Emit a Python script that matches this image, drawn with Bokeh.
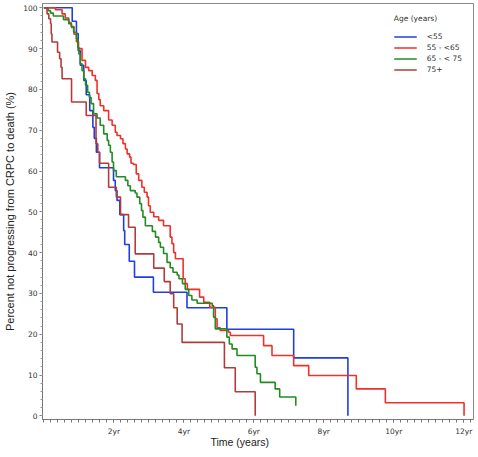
import numpy as np
from bokeh.plotting import figure
from bokeh.models import Range1d, FixedTicker, Title
from bokeh.embed import file_html
from bokeh.resources import INLINE

# ---------------- data ----------------
group_names = ["<55", "55 - <65", "65 - < 75", "75+"]
group_colors = ["#1f3fe0", "#f0302a", "#238b23", "#b03c3c"]

t_lt55 = [0, 0.81, 0.93, 0.98, 1.04, 1.14, 1.21, 1.31, 1.40, 1.44, 1.50, 1.59,
          1.99, 2.04, 2.09, 2.17, 2.28, 2.31, 2.44, 2.59, 3.13, 4.09, 5.23, 7.14, 8.69]
s_lt55 = [100, 96.7, 93.7, 89.5, 85.9, 82.2, 78.7, 74.8, 70.7, 68.0, 64.6, 60.8,
          57.7, 55.2, 52.8, 49.3, 45.4, 42.0, 37.9, 34.0, 30.3, 26.5, 21.2, 14.2, 0]

t_55_65 = [0, 0.33, 0.52, 0.61, 0.71, 0.78, 0.86, 0.93, 0.99, 1.09, 1.19, 1.28,
           1.38, 1.47, 1.52, 1.57, 1.61, 1.71, 1.85, 1.95, 2.04, 2.09, 2.19, 2.26,
           2.33, 2.38, 2.45, 2.49, 2.56, 2.64, 2.71, 2.80, 2.87, 2.95, 2.99, 3.04,
           3.14, 3.28, 3.42, 3.61, 3.66, 3.71, 3.76, 3.98, 4.04, 4.10, 4.45, 4.57,
           4.74, 4.90, 4.95, 5.04, 5.28, 5.33, 6.28, 6.52, 7.14, 7.57, 8.93, 9.76, 12.01]
s_55_65 = [100, 99.5, 98.5, 97.5, 96.4, 95.4, 93.5, 91.7, 90.0, 87.1, 85.4, 84.6,
           83.4, 82.2, 79.0, 77.5, 76.0, 74.8, 72.5, 71.2, 69.5, 68.7, 67.9, 66.7,
           65.4, 64.2, 63.4, 61.9, 61.6, 59.3, 57.7, 56.0, 54.8, 53.6, 51.5, 49.9,
           48.8, 47.9, 46.6, 43.8, 42.2, 40.0, 38.5, 33.6, 32.4, 31.0, 29.1, 27.8,
           26.6, 23.8, 21.6, 20.9, 20.5, 19.7, 17.2, 14.8, 12.3, 9.9, 6.6, 3.2, 0]

t_65_75 = [0, 0.12, 0.19, 0.27, 0.56, 0.71, 0.79, 0.85, 0.93, 0.97, 1.00, 1.04,
           1.09, 1.14, 1.19, 1.25, 1.30, 1.35, 1.42, 1.52, 1.61, 1.71, 1.81, 1.85,
           1.90, 1.95, 1.99, 2.07, 2.33, 2.40, 2.47, 2.61, 2.66, 2.74, 2.79, 2.83,
           2.90, 3.10, 3.19, 3.28, 3.33, 3.42, 3.52, 3.61, 3.69, 3.81, 3.86, 3.96,
           4.04, 4.14, 4.23, 4.38, 4.81, 4.85, 4.90, 5.23, 5.30, 5.38, 5.52, 6.04,
           6.09, 6.19, 6.61, 6.74, 7.20]
s_65_75 = [100, 99.3, 98.7, 98.0, 97.1, 96.1, 95.2, 94.0, 92.4, 90.3, 88.7, 86.3,
           84.6, 82.6, 81.0, 79.3, 78.0, 76.5, 74.0, 73.0, 71.2, 69.1, 67.5, 66.3,
           64.6, 62.2, 60.1, 58.6, 57.7, 56.4, 55.2, 54.6, 53.6, 52.0, 50.3, 48.7,
           46.6, 45.2, 43.8, 42.5, 41.3, 39.8, 37.6, 36.3, 35.2, 34.5, 33.6, 32.4,
           31.0, 29.5, 28.4, 27.6, 27.0, 24.2, 21.3, 19.3, 17.6, 16.4, 14.8, 11.9,
           10.3, 8.2, 6.6, 4.6, 2.5]

t_75p = [0, 0.09, 0.14, 0.19, 0.21, 0.23, 0.39, 0.45, 0.49, 0.52, 0.79, 1.21,
         1.49, 1.54, 1.59, 1.85, 2.07, 2.19, 2.42, 2.61, 3.14, 3.44, 3.61, 3.71,
         3.81, 3.95, 5.16, 5.47, 6.04]
s_75p = [100, 98.5, 97.3, 96.1, 93.6, 91.6, 89.1, 87.5, 85.4, 82.6, 76.9, 73.6,
         66.7, 64.6, 61.9, 56.0, 53.6, 49.3, 46.2, 39.7, 36.2, 32.9, 29.9, 26.5,
         22.5, 18.0, 11.8, 5.9, 0]

x_tick_values = [2, 4, 6, 8, 10, 12]
x_tick_labels = ["2yr", "4yr", "6yr", "8yr", "10yr", "12yr"]
y_tick_values = [0, 10, 20, 30, 40, 50, 60, 70, 80, 90, 100]

series_t = [t_lt55, t_55_65, t_65_75, t_75p]
series_s = [s_lt55, s_55_65, s_65_75, s_75p]

# ---------------- figure ----------------
p = figure(width=478, height=457, output_backend="svg", toolbar_location=None,
           x_range=Range1d(-0.04, 12.28), y_range=Range1d(-0.9, 101.05),
           min_border_left=42, min_border_right=5, min_border_top=3, min_border_bottom=38)

p.grid.visible = False
p.outline_line_color = "#8a8a8a"
p.outline_line_width = 1
p.background_fill_color = "white"

for name, col, tt, ss in zip(group_names, group_colors, series_t, series_s):
    p.step(x=tt, y=ss, mode="after", line_color=col, line_width=1.6, legend_label=name)

# x axis
xa = p.xaxis[0]
xa.ticker = FixedTicker(ticks=x_tick_values, minor_ticks=list(np.arange(0, 12.3, 0.2)))
xa.major_label_overrides = {v: lab for v, lab in zip(x_tick_values, x_tick_labels)}
xa.major_label_text_font = "DejaVu Sans"
xa.major_label_text_font_size = "7.5px"
xa.major_label_text_color = "#333333"
xa.major_label_standoff = 4
xa.axis_line_color = "#777777"
xa.major_tick_line_color = "#777777"
xa.minor_tick_line_color = "#777777"
xa.major_tick_out = 3
xa.major_tick_in = 0
xa.minor_tick_out = 3
xa.minor_tick_in = 0

# x axis title (placed slightly left of centre, as in the reference)
xt = Title(text="Time (years)", align="left", offset=168,
           text_font="Liberation Sans", text_font_size="10.5px",
           text_font_style="normal", text_color="#222222", standoff=-9)
p.add_layout(xt, "below")

# y axis
ya = p.yaxis[0]
ya.ticker = FixedTicker(ticks=y_tick_values, minor_ticks=list(np.arange(0, 101, 2)))
ya.axis_label = "Percent not progressing from CRPC to death (%)"
ya.axis_label_text_font = "Liberation Sans"
ya.axis_label_text_font_size = "11px"
ya.axis_label_text_font_style = "normal"
ya.axis_label_text_color = "#222222"
ya.axis_label_standoff = 4
ya.major_label_text_font = "DejaVu Sans"
ya.major_label_text_font_size = "7.5px"
ya.major_label_text_color = "#333333"
ya.major_label_standoff = 2
ya.axis_line_color = "#777777"
ya.major_tick_line_color = "#777777"
ya.minor_tick_line_color = "#999999"
ya.major_tick_out = 3
ya.major_tick_in = 0
ya.minor_tick_out = 2
ya.minor_tick_in = 0

# legend
lg = p.legend[0]
lg.location = "top_right"
lg.title = "Age (years)"
lg.title_text_font = "DejaVu Sans"
lg.title_text_font_size = "7.5px"
lg.title_text_font_style = "normal"
lg.title_text_color = "#333333"
lg.title_standoff = 8
lg.label_text_font = "DejaVu Sans"
lg.label_text_font_size = "7.5px"
lg.label_text_color = "#333333"
lg.glyph_width = 23
lg.glyph_height = 11
lg.label_height = 11
lg.label_standoff = 10
lg.spacing = 0
lg.padding = 8
lg.margin = 11
lg.border_line_color = None
lg.background_fill_alpha = 0

open("out.html", "w").write(file_html(p, INLINE))
